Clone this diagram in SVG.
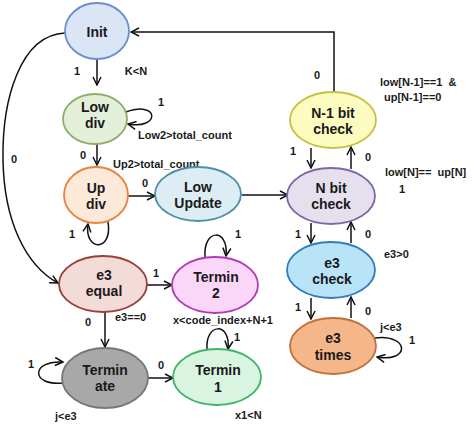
<svg xmlns="http://www.w3.org/2000/svg" width="474" height="424" viewBox="0 0 474 424">
<style>
.n{stroke-width:1.8}
.t{font-family:"Liberation Sans",Arial,sans-serif;font-weight:bold;font-size:14px;fill:#1a1a1a;text-anchor:middle}
.l{font-family:"Liberation Sans",Arial,sans-serif;font-weight:bold;font-size:11px;fill:#1a1a1a}
.e{fill:none;stroke:#111;stroke-width:1.5}
</style>
<defs>
<marker id="a" viewBox="0 0 10 10" refX="9" refY="5" markerWidth="10" markerHeight="10" markerUnits="userSpaceOnUse" orient="auto">
<path d="M1,1 L9,5 L1,9" fill="none" stroke="#111" stroke-width="1.5"/>
</marker>
</defs>
<rect width="474" height="424" fill="#fff"/>
<g id="connectors">
<path class="e" marker-end="url(#a)" d="M97 59 L97 85"/>
<path class="e" marker-end="url(#a)" d="M126 112 C160 100 160 130 128 124"/>
<path class="e" marker-end="url(#a)" d="M97 143 L97 165"/>
<path class="e" marker-end="url(#a)" d="M128 196 L155 196"/>
<path class="e" marker-end="url(#a)" d="M108 222 C113 252 84 252 88 224"/>
<path class="e" marker-end="url(#a)" d="M242 195 L288 195"/>
<path class="e" marker-end="url(#a)" d="M311 148 L311 168"/>
<path class="e" marker-end="url(#a)" d="M351 169 L351 147"/>
<path class="e" marker-end="url(#a)" d="M334 92 L334 32 L131 32"/>
<path class="e" marker-end="url(#a)" d="M311 223 L311 243"/>
<path class="e" marker-end="url(#a)" d="M351 243 L351 222"/>
<path class="e" marker-end="url(#a)" d="M311 298 L311 319"/>
<path class="e" marker-end="url(#a)" d="M351 318 L351 297"/>
<path class="e" marker-end="url(#a)" d="M375 338 C410 334 410 363 377 357"/>
<path class="e" marker-end="url(#a)" d="M65 33 C20 35 2 100 3 160 C4 220 25 265 58 283"/>
<path class="e" marker-end="url(#a)" d="M147 285 L172 285"/>
<path class="e" marker-end="url(#a)" d="M205 257 C203 228 229 228 226 256"/>
<path class="e" marker-end="url(#a)" d="M105 312 L105 347"/>
<path class="e" marker-end="url(#a)" d="M63 383 C30 386 31 360 63 362"/>
<path class="e" marker-end="url(#a)" d="M148 378 L173 378"/>
<path class="e" marker-end="url(#a)" d="M207 350 C205 322 231 322 228 349"/>
</g>
<g id="labels">
<text class="l" x="77" y="75" text-anchor="middle">1</text>
<text class="l" x="136" y="75" text-anchor="middle">K&lt;N</text>
<text class="l" x="161" y="106" text-anchor="middle">1</text>
<text class="l" x="138" y="139">Low2&gt;total_count</text>
<text class="l" x="83" y="159" text-anchor="middle">0</text>
<text class="l" x="113" y="168">Up2&gt;total_count</text>
<text class="l" x="145" y="187" text-anchor="middle">0</text>
<text class="l" x="14" y="163" text-anchor="middle">0</text>
<text class="l" x="72" y="238" text-anchor="middle">1</text>
<text class="l" x="317" y="79" text-anchor="middle">0</text>
<text class="l" x="380" y="86" xml:space="preserve">low[N-1]==1  &amp;</text>
<text class="l" x="384" y="101">up[N-1]==0</text>
<text class="l" x="293" y="155" text-anchor="middle">1</text>
<text class="l" x="368" y="161" text-anchor="middle">0</text>
<text class="l" x="385" y="176" xml:space="preserve">low[N]==  up[N]</text>
<text class="l" x="402" y="193" text-anchor="middle">1</text>
<text class="l" x="298" y="238" text-anchor="middle">1</text>
<text class="l" x="368" y="238" text-anchor="middle">0</text>
<text class="l" x="384" y="258">e3&gt;0</text>
<text class="l" x="298" y="311" text-anchor="middle">1</text>
<text class="l" x="368" y="315" text-anchor="middle">0</text>
<text class="l" x="380" y="331">j&lt;e3</text>
<text class="l" x="412" y="344" text-anchor="middle">1</text>
<text class="l" x="156" y="277" text-anchor="middle">1</text>
<text class="l" x="238" y="238" text-anchor="middle">1</text>
<text class="l" x="88" y="326" text-anchor="middle">0</text>
<text class="l" x="115" y="321">e3==0</text>
<text class="l" x="173" y="324">x&lt;code_index+N+1</text>
<text class="l" x="237" y="341" text-anchor="middle">1</text>
<text class="l" x="31" y="368" text-anchor="middle">1</text>
<text class="l" x="161" y="369" text-anchor="middle">0</text>
<text class="l" x="55" y="420">j&lt;e3</text>
<text class="l" x="235" y="419">x1&lt;N</text>
</g>
<g id="init"><ellipse class="n" cx="97" cy="31" rx="32" ry="28" fill="#dae6f6" stroke="#6a8fcf"/><text class="t" x="97" y="37">Init</text></g>
<g id="lowdiv"><ellipse class="n" cx="95" cy="119" rx="32" ry="25" fill="#e4efd9" stroke="#8fad6a"/><text class="t" x="95" y="112">Low</text><text class="t" x="95" y="128">div</text></g>
<g id="updiv"><ellipse class="n" cx="96" cy="195" rx="32" ry="28" fill="#fde9da" stroke="#e8833f"/><text class="t" x="96" y="193">Up</text><text class="t" x="96" y="209">div</text></g>
<g id="lowupdate"><ellipse class="n" cx="198" cy="194" rx="43" ry="27" fill="#dcedf4" stroke="#4e90a8"/><text class="t" x="198" y="192">Low</text><text class="t" x="198" y="208">Update</text></g>
<g id="n1bitcheck"><ellipse class="n" cx="333" cy="120" rx="43" ry="28" fill="#fdfcc0" stroke="#c6c040"/><text class="t" x="333" y="118">N-1 bit</text><text class="t" x="333" y="134">check</text></g>
<g id="nbitcheck"><ellipse class="n" cx="331" cy="196" rx="44" ry="28" fill="#e6e0ee" stroke="#7f67a3"/><text class="t" x="331" y="193">N bit</text><text class="t" x="331" y="209">check</text></g>
<g id="e3check"><ellipse class="n" cx="331" cy="270" rx="44" ry="28" fill="#b9e3f6" stroke="#2f7cbf"/><text class="t" x="332" y="268">e3</text><text class="t" x="332" y="284">check</text></g>
<g id="e3times"><ellipse class="n" cx="333" cy="346" rx="43" ry="28" fill="#f5b68a" stroke="#c0703a"/><text class="t" x="333" y="343">e3</text><text class="t" x="333" y="360">times</text></g>
<g id="e3equal"><ellipse class="n" cx="103" cy="284" rx="44" ry="28" fill="#f3dbd8" stroke="#98403c"/><text class="t" x="104" y="280">e3</text><text class="t" x="104" y="296">equal</text></g>
<g id="termin2"><ellipse class="n" cx="215" cy="285" rx="43" ry="28" fill="#fad6f8" stroke="#b23ab5"/><text class="t" x="216" y="282">Termin</text><text class="t" x="216" y="298">2</text></g>
<g id="terminate"><ellipse class="n" cx="105" cy="378" rx="43" ry="30" fill="#a8a8a8" stroke="#777"/><text class="t" x="105" y="375">Termin</text><text class="t" x="105" y="391">ate</text></g>
<g id="termin1"><ellipse class="n" cx="217" cy="377" rx="44" ry="28" fill="#d9f5e1" stroke="#40b36a"/><text class="t" x="218" y="375">Termin</text><text class="t" x="218" y="392">1</text></g>
</svg>
